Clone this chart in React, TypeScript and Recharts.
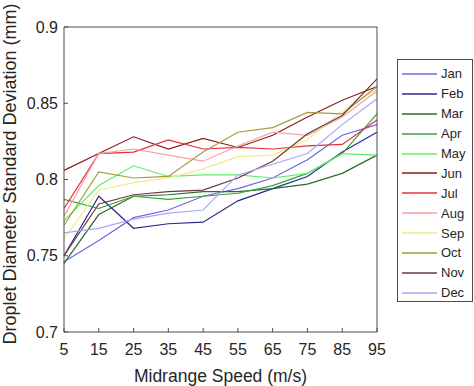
import React from "react";
import { LineChart, Line, XAxis, YAxis } from "recharts";

const speeds = [5, 15, 25, 35, 45, 55, 65, 75, 85, 95];
const yTicks = [0.7, 0.75, 0.8, 0.85, 0.9];

const jan = [0.746, 0.76, 0.775, 0.78, 0.789, 0.794, 0.801, 0.813, 0.829, 0.836];
const feb = [0.75, 0.789, 0.768, 0.771, 0.772, 0.786, 0.794, 0.802, 0.818, 0.831];
const mar = [0.745, 0.777, 0.789, 0.79, 0.792, 0.792, 0.794, 0.797, 0.804, 0.816];
const apr = [0.787, 0.781, 0.789, 0.787, 0.789, 0.791, 0.796, 0.804, 0.817, 0.843];
const may = [0.773, 0.796, 0.809, 0.802, 0.803, 0.803, 0.801, 0.804, 0.817, 0.816];
const jun = [0.806, 0.817, 0.828, 0.82, 0.827, 0.821, 0.829, 0.841, 0.852, 0.861];
const jul = [0.781, 0.817, 0.818, 0.826, 0.82, 0.821, 0.82, 0.822, 0.823, 0.839];
const aug = [0.776, 0.817, 0.82, 0.816, 0.812, 0.822, 0.831, 0.829, 0.841, 0.858];
const sep = [0.761, 0.793, 0.798, 0.801, 0.807, 0.815, 0.816, 0.826, 0.845, 0.859];
const oct = [0.77, 0.805, 0.801, 0.802, 0.818, 0.831, 0.834, 0.844, 0.843, 0.861];
const nov = [0.75, 0.784, 0.79, 0.792, 0.793, 0.801, 0.812, 0.83, 0.842, 0.866];
const dec = [0.765, 0.768, 0.774, 0.778, 0.78, 0.803, 0.81, 0.817, 0.836, 0.853];

const months = [
  { key: "Jan", values: jan, color: "#6a6ade" },
  { key: "Feb", values: feb, color: "#2a2a8c" },
  { key: "Mar", values: mar, color: "#2e6a2e" },
  { key: "Apr", values: apr, color: "#35a335" },
  { key: "May", values: may, color: "#5ef05e" },
  { key: "Jun", values: jun, color: "#8c1c1c" },
  { key: "Jul", values: jul, color: "#e2303a" },
  { key: "Aug", values: aug, color: "#f7a2a2" },
  { key: "Sep", values: sep, color: "#f3ea85" },
  { key: "Oct", values: oct, color: "#a39c3e" },
  { key: "Nov", values: nov, color: "#6e3838" },
  { key: "Dec", values: dec, color: "#a8a8f2" },
];

const data = speeds.map((s, i) => {
  const row: Record<string, number> = { speed: s };
  months.forEach((m) => (row[m.key] = m.values[i]));
  return row;
});

const font = "'Liberation Sans', Arial, sans-serif";
const axisColor = "#4d4d4d";
const textColor = "#262626";

const MonthLegend = () => (
  <div
    style={{
      position: "absolute",
      left: 397,
      top: 59,
      width: 76,
      height: 243,
      border: `1px solid ${axisColor}`,
      background: "#fff",
      boxSizing: "border-box",
      paddingTop: 4,
    }}
  >
    {months.map((m) => (
      <div
        key={m.key}
        style={{ display: "flex", alignItems: "center", height: 19.9 }}
      >
        <svg width={43} height={4} style={{ flex: "none" }}>
          <line x1={4} x2={39} y1={2} y2={2} stroke={m.color} strokeWidth={1.3} />
        </svg>
        <span style={{ fontFamily: font, fontSize: 13, color: textColor }}>
          {m.key}
        </span>
      </div>
    ))}
  </div>
);

const YLabel = () => (
  <text
    x={16}
    y={174}
    transform="rotate(-90 16 174)"
    textAnchor="middle"
    fontFamily={font}
    fontSize={18}
    fill={textColor}
  >
    Droplet Diameter Standard Deviation (mm)
  </text>
);

export default function App() {
  return (
    <div style={{ position: "absolute", left: 0, top: 0, width: 474, height: 386 }}>
      <LineChart
        width={474}
        height={386}
        data={data}
        margin={{ top: 26, right: 96, left: 0, bottom: 0 }}
      >
        <XAxis
          dataKey="speed"
          type="number"
          domain={[5, 95]}
          ticks={speeds}
          height={54}
          stroke={axisColor}
          tickSize={-4}
          tickMargin={16}
          tick={{ fill: textColor, fontFamily: font, fontSize: 16 }}
          label={{
            value: "Midrange Speed (m/s)",
            position: "insideBottom",
            offset: 4,
            fill: textColor,
            fontFamily: font,
            fontSize: 17.5,
          }}
        />
        <XAxis
          xAxisId="top"
          dataKey="speed"
          type="number"
          domain={[5, 95]}
          orientation="top"
          height={1}
          stroke={axisColor}
          ticks={speeds}
          tickSize={-4}
          tick={false}
        />
        <YAxis
          type="number"
          domain={[0.7, 0.9]}
          ticks={yTicks}
          width={64}
          stroke={axisColor}
          tickSize={-4}
          tickMargin={10}
          tick={{ fill: textColor, fontFamily: font, fontSize: 16 }}
          label={{ content: () => <YLabel /> }}
        />
        <YAxis
          yAxisId="right"
          orientation="right"
          type="number"
          domain={[0.7, 0.9]}
          ticks={yTicks}
          width={1}
          stroke={axisColor}
          tickSize={-4}
          tick={false}
        />
        {months.map((m) => (
          <Line
            key={m.key}
            dataKey={m.key}
            stroke={m.color}
            strokeWidth={1.2}
            dot={false}
            type="linear"
            isAnimationActive={false}
          />
        ))}
      </LineChart>
      <MonthLegend />
    </div>
  );
}
